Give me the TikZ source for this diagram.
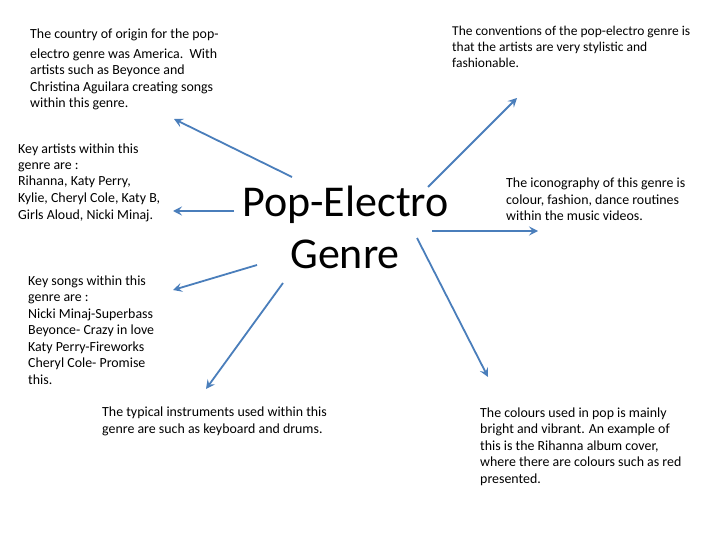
\documentclass[tikz,border=0pt]{standalone}
\usepackage{fontspec}
\setmainfont{Carlito}
\usetikzlibrary{arrows.meta}
\definecolor{arrowblue}{RGB}{74,126,187}
\tikzset{
  note/.style={anchor=base west, inner sep=0pt, align=left, font=\fontsize{13.9}{16.5}\selectfont},
  title/.style={anchor=base, inner sep=0pt, font=\fontsize{44}{50}\selectfont},
  link/.style={draw=arrowblue, line width=1.8pt, -{Stealth[length=9pt,width=9pt,inset=3.5pt]}}
}
\begin{document}
\begin{tikzpicture}[x=1pt,y=-1pt]
\useasboundingbox[fill=white] (0,0) rectangle (720,540);
% centre
\node[title] (t1) at (345.5,217) {Pop-Electro};
\node[title] (t2) at (345,268) {Genre};
% text blocks (anchored at the baseline of their last line)
\node[note] (origin) at (30,108) {The country of origin for the pop-\\[3.5pt]electro genre was America.\ \ With\\artists such as Beyonce and\\Christina Aguilara creating songs\\within this genre.};
\node[note] (artists) at (18,219) {Key artists within this\\genre are :\\Rihanna, Katy Perry,\\Kylie, Cheryl Cole, Katy B,\\Girls Aloud, Nicki Minaj.};
\node[note] (songs) at (28,384) {Key songs within this\\genre are :\\Nicki Minaj-Superbass\\Beyonce- Crazy in love\\Katy Perry-Fireworks\\Cheryl Cole- Promise\\this.};
\node[note] (instr) at (102,433) {The typical instruments used within this\\genre are such as keyboard and drums.};
\node[note] (colours) at (480,483) {The colours used in pop is mainly\\bright and vibrant. An example of\\this is the Rihanna album cover,\\where there are colours such as red\\presented.};
\node[note, font=\fontsize{13.5}{16}\selectfont] (conv) at (452,68) {The conventions of the pop-electro genre is\\that the artists are very stylistic and\\fashionable.};
\node[note] (icon) at (506,221) {The iconography of this genre is\\colour, fashion, dance routines\\within the music videos.};
% arrow end points
\coordinate (s1) at (292,177); \coordinate (e1) at (174,119);
\coordinate (s2) at (234,211); \coordinate (e2) at (173,211);
\coordinate (s3) at (257,265); \coordinate (e3) at (173,290);
\coordinate (s4) at (283,283); \coordinate (e4) at (206,389);
\coordinate (s5) at (428,187); \coordinate (e5) at (517,98);
\coordinate (s6) at (432,231); \coordinate (e6) at (538,231);
\coordinate (s7) at (417,238); \coordinate (e7) at (488,377);
\draw[link] (s1) -- (e1);
\draw[link] (s2) -- (e2);
\draw[link] (s3) -- (e3);
\draw[link] (s4) -- (e4);
\draw[link] (s5) -- (e5);
\draw[link] (s6) -- (e6);
\draw[link] (s7) -- (e7);
\end{tikzpicture}
\end{document}
